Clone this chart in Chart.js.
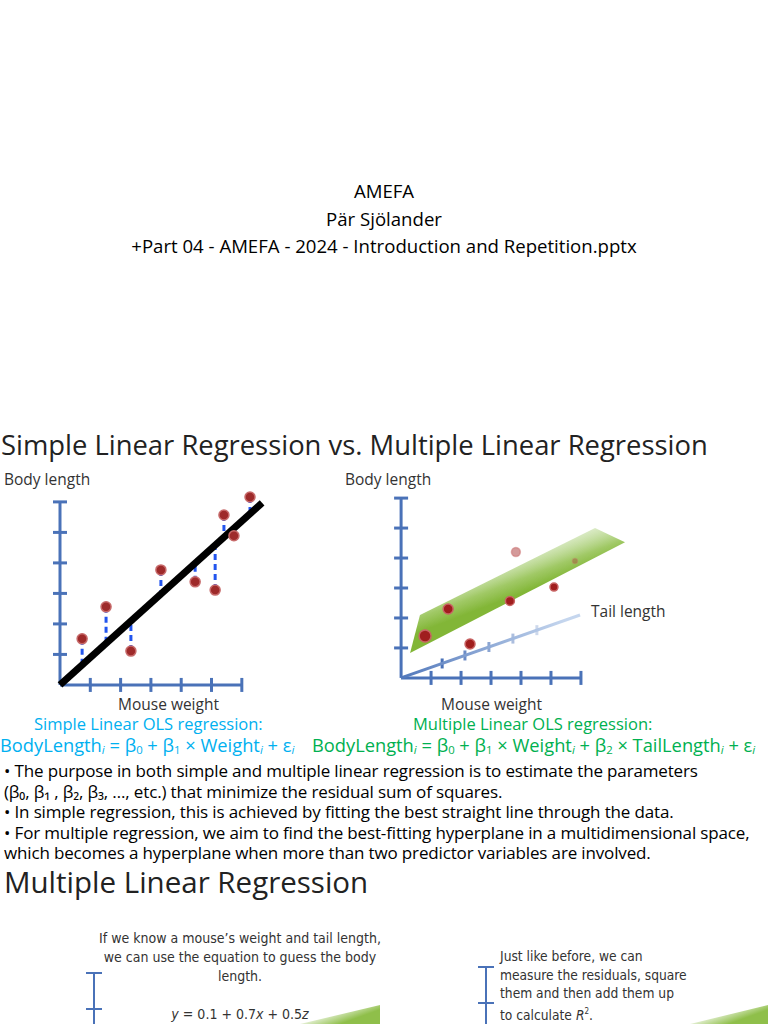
<!DOCTYPE html>
<html><head><meta charset="utf-8">
<script src="https://cdn.jsdelivr.net/npm/chart.js@4"></script>
<style>
body{margin:0;width:768px;height:1024px;background:#fff;font-family:"Open Sans",sans-serif;color:#000;position:relative;overflow:hidden}
.a{position:absolute;white-space:nowrap;line-height:1.1}
.c{position:absolute}
sub{font-size:62%;font-style:italic;line-height:0;vertical-align:-0.15em}
.n{font-style:normal}
.nar{font-family:'Liberation Sans Narrow','DejaVu Sans Condensed',sans-serif;color:#333}
</style></head><body>
<div class="a" style="left:0;width:768px;text-align:center;top:177px;font-size:18.6px;line-height:27.5px">AMEFA<br>Pär Sjölander<br>+Part 04 - AMEFA - 2024 - Introduction and Repetition.pptx</div>
<div class="a" style="left:1px;top:430px;font-size:27.4px;color:#222">Simple Linear Regression vs. Multiple Linear Regression</div>
<div class="a" style="left:4px;top:471px;font-size:15.5px;color:#333">Body length</div>
<div class="a" style="left:345px;top:471px;font-size:15.5px;color:#333">Body length</div>
<div class="a" style="left:118px;top:697px;font-size:15.5px;line-height:15px;color:#333">Mouse weight</div>
<div class="a" style="left:441px;top:697px;font-size:15.5px;line-height:15px;color:#333">Mouse weight</div>
<div class="a" style="left:591px;top:603px;font-size:15.5px;color:#333">Tail length</div>
<div class="c" style="left:40px;top:490px;width:240px;height:205px"><canvas id="c1"></canvas></div>
<div class="c" style="left:390px;top:490px;width:250px;height:205px"><canvas id="c2"></canvas></div>
<div class="a" style="left:34px;top:714px;font-size:16.5px;line-height:19px;color:#00b0f0">Simple Linear OLS regression:</div>
<div class="a" style="left:413px;top:714px;font-size:16.5px;line-height:19px;color:#00b050">Multiple Linear OLS regression:</div>
<div class="a" style="left:0;top:735px;font-size:18.3px;color:#00b0f0">BodyLength<sub>i</sub> = β<sub class="n">0</sub> + β<sub class="n">1</sub> × Weight<sub>i</sub> + ε<sub>i</sub></div>
<div class="a" style="left:312px;top:735px;font-size:18.3px;color:#00b050">BodyLength<sub>i</sub> = β<sub class="n">0</sub> + β<sub class="n">1</sub> × Weight<sub>i</sub> + β<sub class="n">2</sub> × TailLength<sub>i</sub> + ε<sub>i</sub></div>
<div class="a" style="left:4px;top:761px;font-size:17px;line-height:20.5px;letter-spacing:-0.15px">• The purpose in both simple and multiple linear regression is to estimate the parameters<br>(β₀, β₁ , β₂, β₃, …, etc.) that minimize the residual sum of squares.<br>• In simple regression, this is achieved by fitting the best straight line through the data.<br>• For multiple regression, we aim to find the best-fitting hyperplane in a multidimensional space,<br>which becomes a hyperplane when more than two predictor variables are involved.</div>
<div class="a" style="left:4px;top:866px;font-size:29.5px;line-height:32px;color:#222">Multiple Linear Regression</div>
<div class="a nar" style="left:70px;width:340px;text-align:center;top:929px;font-size:14px;line-height:19px">If we know a mouse’s weight and tail length,<br>we can use the equation to guess the body<br>length.<br><br><i>y</i> = 0.1 + 0.7<i>x</i> + 0.5<i>z</i></div>
<div class="a nar" style="left:500px;top:947px;font-size:13.7px;line-height:18.7px">Just like before, we can<br>measure the residuals, square<br>them and then add them up<br>to calculate <i>R</i><sup style="font-size:8px">2</sup>.</div>
<div class="c" style="left:93px;top:972px;width:2px;height:52px;background:#4a72b8"></div>
<div class="c" style="left:86px;top:972px;width:16px;height:2px;background:#4a72b8"></div>
<div class="c" style="left:86px;top:1008px;width:16px;height:2px;background:#4a72b8"></div>
<div class="c" style="left:485px;top:966px;width:2px;height:58px;background:#4a72b8"></div>
<div class="c" style="left:478px;top:966px;width:16px;height:2px;background:#4a72b8"></div>
<div class="c" style="left:478px;top:1002px;width:16px;height:2px;background:#4a72b8"></div>
<div class="c" style="left:300px;top:1005px;width:80px;height:19px;background:linear-gradient(160deg,#fff 30%,#8fbf4a 70%);clip-path:polygon(0 100%,100% 0,100% 100%)"></div>
<div class="c" style="left:690px;top:1005px;width:78px;height:19px;background:linear-gradient(160deg,#fff 30%,#8fbf4a 70%);clip-path:polygon(0 100%,100% 0,100% 100%)"></div>
<script>
// Simple regression data (axis units)
const simpleX=[0.73,1.52,2.34,3.33,4.46,5.12,5.41,5.74,6.27];
const simpleY=[1.51,2.56,1.11,3.77,3.38,3.11,5.57,4.89,6.16];
const lineSlope=0.895;
const lineEndX=6.67;
const axisTicks=[1,2,3,4,5,6];
// Multiple regression data
const multiX=[0.8,1.57,2.3,3.63,3.83,5.1,5.8];
const multiY=[1.4,2.3,1.13,2.57,4.2,3.03,3.9];
const multiR=[6,5,5,4.5,4.5,4,2.5];
const multiAlpha=[1,1,1,1,0.45,1,0.3];
const planeX=[0.3,0.63,6.47,7.47];
const planeY=[0.83,2.1,5.0,4.53];
const tailEnd=[5.97,2.1];
const tailTicks=[1.37,2.13,2.93,3.73,4.53];

const BLUE='#4a72b8';
function axisSets(){
 return [
  {type:'line',data:[{x:0,y:0},...axisTicks.map(t=>({x:t,y:0}))],borderColor:BLUE,borderWidth:3,pointStyle:'line',rotation:90,pointRadius:[0,...axisTicks.map(()=>7)],pointBorderColor:BLUE,pointBorderWidth:3,order:5},
  {type:'line',data:[{x:0,y:0},...axisTicks.map(t=>({x:0,y:t}))],borderColor:BLUE,borderWidth:3,pointStyle:'line',rotation:0,pointRadius:[0,...axisTicks.map(()=>7)],pointBorderColor:BLUE,pointBorderWidth:3,order:5}
 ];
}
const planePlugin={id:'plane',beforeDatasetsDraw(chart){
 if(chart.canvas.id!=='c2')return;
 const {ctx,scales:{x,y}}=chart;
 ctx.save();
 ctx.beginPath();
 planeX.forEach((v,i)=>{const px=x.getPixelForValue(v),py=y.getPixelForValue(planeY[i]);i?ctx.lineTo(px,py):ctx.moveTo(px,py);});
 ctx.closePath();
 const g=ctx.createLinearGradient(x.getPixelForValue(4.2),y.getPixelForValue(2.9),x.getPixelForValue(3.4),y.getPixelForValue(5.0));
 g.addColorStop(0,'rgba(130,182,55,1)');g.addColorStop(0.2,'rgba(150,195,85,0.9)');g.addColorStop(0.65,'rgba(200,225,170,0.35)');g.addColorStop(1,'rgba(255,255,255,0)');
 ctx.fillStyle=g;ctx.fill();ctx.restore();
}};
const common={responsive:true,maintainAspectRatio:false,animation:false,plugins:{legend:{display:false},tooltip:{enabled:false}},layout:{padding:0,autoPadding:false}};
const resid=simpleX.map((x,i)=>({type:'line',data:[{x,y:simpleY[i]},{x,y:lineSlope*x}],borderColor:'#2255ee',borderWidth:3,borderDash:[6,4],pointRadius:0,order:3}));
new Chart(document.getElementById('c1'),{type:'scatter',data:{datasets:[
 ...axisSets(),...resid,
 {type:'line',data:[{x:0,y:0},{x:lineEndX,y:lineSlope*lineEndX}],borderColor:'#000',borderWidth:7,pointRadius:0,order:2},
 {data:simpleX.map((x,i)=>({x,y:simpleY[i]})),backgroundColor:'#9e2a2a',borderColor:'#c76a6a',borderWidth:1.5,pointRadius:5,order:1}
]},options:{...common,scales:{x:{display:false,min:-0.66,max:7.26},y:{display:false,min:-0.33,max:6.39}}}});

new Chart(document.getElementById('c2'),{type:'scatter',plugins:[planePlugin],data:{datasets:[
 ...axisSets(),
 {type:'line',data:[{x:0,y:0},{x:tailEnd[0],y:tailEnd[1]}],borderColor:ctx=>{const a=ctx.chart.chartArea;if(!a)return BLUE;const g=ctx.chart.ctx.createLinearGradient(a.left,0,a.right,0);g.addColorStop(0,BLUE);g.addColorStop(0.7,'#c5d6ee');return g;},borderWidth:3,pointRadius:0,order:4},
 {data:tailTicks.map(t=>({x:t,y:t*tailEnd[1]/tailEnd[0]})),pointStyle:'line',rotation:90,pointRadius:5,borderColor:tailTicks.map((t,i)=>`rgba(74,114,184,${1-i*0.18})`),borderWidth:3,order:4},
 {data:multiX.map((x,i)=>({x,y:multiY[i]})),backgroundColor:multiAlpha.map(a=>`rgba(160,30,30,${a})`),borderColor:multiAlpha.map(a=>`rgba(200,100,100,${a})`),borderWidth:1.5,pointRadius:multiR,order:1}
]},options:{...common,scales:{x:{display:false,min:-0.37,max:7.97},y:{display:false,min:-0.57,max:6.27}}}});
</script>
</body></html>
